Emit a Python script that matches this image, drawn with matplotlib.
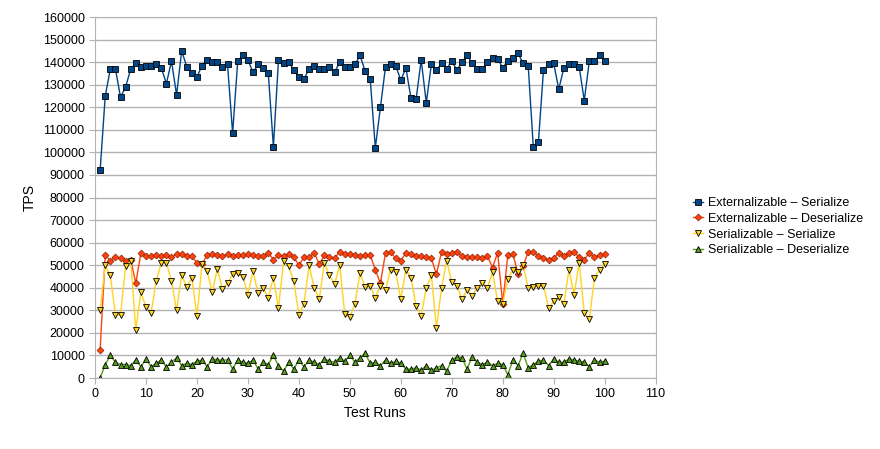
import matplotlib
matplotlib.use("Agg")
import matplotlib.pyplot as plt

runs = list(range(1, 101))
ext_ser = [92000,125000,137000,137000,124500,129000,137000,139500,138000,138500,138500,139000,137500,130500,140500,125500,145000,138000,135000,133500,
138500,141000,140000,140000,138000,139000,108500,140500,143000,141000,135500,139000,137500,135000,102500,141000,139500,140000,136500,133500,
132500,137000,138500,137000,137000,138000,135500,140000,138000,138000,139000,143000,136000,132500,102000,120000,138000,139000,138500,132000,
137500,124000,123500,141000,122000,139000,136500,139500,137000,140500,136500,140000,143000,139500,137000,137000,140000,142000,141500,137500,
140500,142000,144000,139500,138500,102500,104500,136500,139000,139500,128000,137500,139000,139000,138000,123000,140500,140500,143000,140500]
ext_deser = [12500,54500,52000,53500,53000,52000,52500,42000,55500,54000,54000,54500,54000,54500,53500,55000,55000,54000,54000,51000,
50500,54500,55000,54500,54000,55000,54000,54500,54500,55000,54500,54000,54000,55500,52500,54500,54000,55000,53500,50000,
53500,53500,55500,50500,54500,53500,53000,56000,55000,55000,54500,54000,54500,54500,48000,42000,55500,56000,53000,52000,
55500,55000,54000,54000,53500,53000,46000,56000,55000,55500,56000,54000,53500,53500,53500,53000,54000,49000,55500,33000,
54500,55000,46000,49500,56000,56000,54000,53000,52500,53000,55500,54000,55500,56000,53500,52500,55500,53500,54500,55000]
ser_ser = [30000,50000,45500,28000,28000,49500,52000,21500,38000,31500,29000,43000,51000,51000,43000,30000,45500,40500,44500,27500,
50500,47500,38000,48500,39500,42000,46000,46500,45000,37000,47500,37500,40000,35500,44500,31000,52000,49500,43000,28000,
33000,50000,40000,35000,51000,45500,41500,50000,28500,27000,33000,46500,40500,41000,35500,41000,39000,48000,47000,35000,
48000,44500,32000,27500,40000,45500,22000,40000,52000,42500,41000,35000,39000,36500,40000,42000,40000,47000,34000,33000,
44000,48000,47000,50000,40000,40500,41000,41000,31000,34000,36000,33000,48000,37000,51000,29000,26000,44500,48000,50500]
ser_deser = [0,6000,10000,7000,6000,6000,5500,8000,5000,8500,5000,6500,8000,5000,7000,9000,5500,6500,6000,7500,
8000,5000,8500,8000,8000,8000,4000,8000,7000,6500,8000,4000,7000,6000,10000,5500,3000,7000,4000,8000,
5000,8000,7000,6000,8500,7500,7000,9000,7500,10000,7000,9000,11000,6500,7000,5500,8000,6500,7500,6500,
4000,4000,4500,3500,5500,3500,4500,5500,3000,8000,9500,9000,4000,9500,7000,6000,7000,5500,6500,6000,
1500,8000,5500,11000,4500,6000,7500,8000,5500,8500,7000,7000,8500,8000,7500,7000,5000,8000,7000,7500]

labels = ["Externalizable \u2013 Serialize", "Externalizable \u2013 Deserialize",
          "Serializable \u2013 Serialize", "Serializable \u2013 Deserialize"]

plt.rcParams["font.family"] = "Liberation Sans"
fig = plt.figure(figsize=(8.8, 4.49), dpi=100)
ax = fig.add_axes([0.108, 0.158, 0.637, 0.804])
ax.plot(runs, ext_ser, color="#004586", lw=1, marker="s", ms=5, mfc="#004586", mec="black", mew=0.6, label=labels[0])
ax.plot(runs, ext_deser, color="#ff420e", lw=1, marker="D", ms=3.5, mfc="#ff420e", mec="#8a2000", mew=0.5, label=labels[1])
ax.plot(runs, ser_ser, color="#ffd320", lw=1, marker="v", ms=5, mfc="#ffd320", mec="black", mew=0.6, label=labels[2])
ax.plot(runs, ser_deser, color="#579d1c", lw=1, marker="^", ms=5, mfc="#579d1c", mec="black", mew=0.6, label=labels[3])
ax.set_xlim(0, 110)
ax.set_ylim(0, 160000)
ax.set_xticks(range(0, 111, 10))
ax.set_yticks(range(0, 160001, 10000))
ax.tick_params(labelsize=9, length=4, color="#b3b3b3")
ax.yaxis.grid(True, color="#b3b3b3", lw=1)
ax.set_axisbelow(True)
for s in ax.spines.values():
    s.set_color("#b3b3b3")
ax.set_xlabel("Test Runs", fontsize=10)
ax.set_ylabel("TPS", fontsize=10)
fig.legend(loc="center left", bbox_to_anchor=(0.775, 0.495), frameon=False, fontsize=9,
           handlelength=0.8, handletextpad=0.4, labelspacing=0.3)
fig.savefig("out.png", dpi=100)
